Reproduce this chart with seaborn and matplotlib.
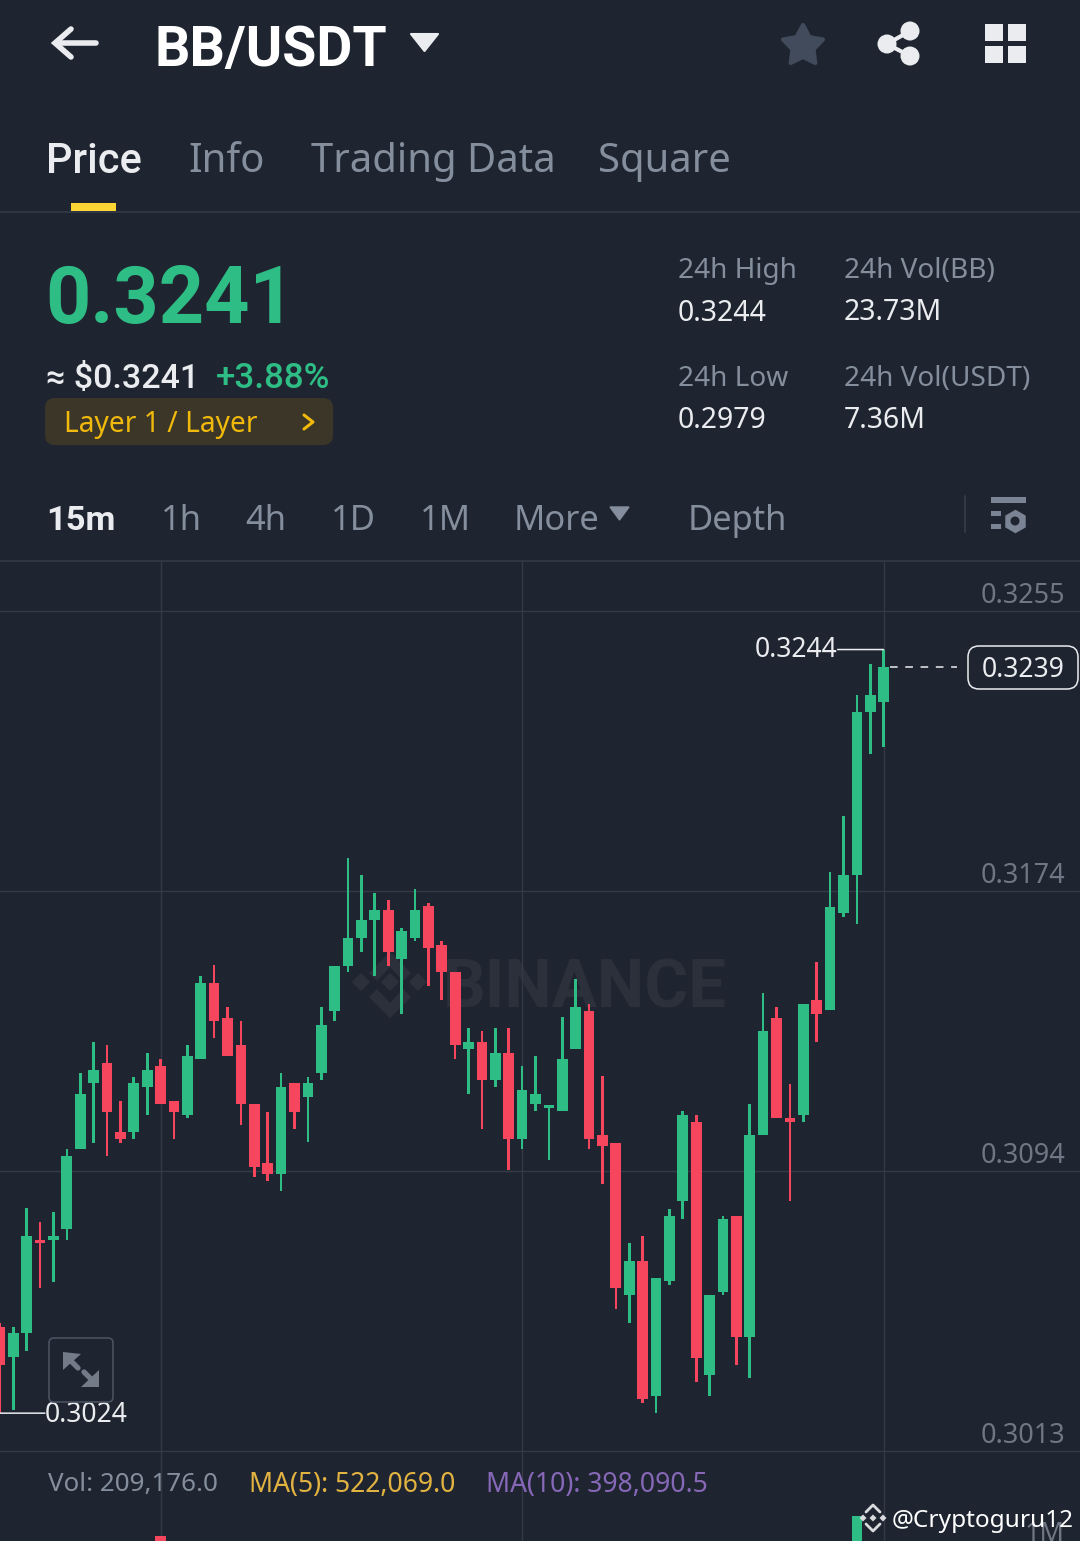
import numpy as np
import pandas as pd
import matplotlib
matplotlib.use("Agg")
import matplotlib.pyplot as plt
from matplotlib.patches import FancyBboxPatch, Polygon, Circle, Rectangle
import seaborn as sns

# ---------- data ----------
opens = [.30488,.30400,.30469,.30738,.30738,.30769,.30999,.31189,.31249,.31049,.31049,.31179,.31238,.31138,.31099,.31259,.31478,.31378,.31299,.31129,.30959,.30929,.31189,
         .31149,.31219,.31398,.31528,.31609,.31659,.31689,.31548,.31609,.31699,.31589,.31509,.31288,.31308,.31199,.31278,.31029,.31129,.31119,.31109,.31288,
         .31399,.31039,.31018,.30579,.30678,.30289,.30619,.30849,.31079,.30349,.30589,.30808,.30459,.31039,.31378,.31088,.31099,.31428,
         .31400,.31679,.31788,.32259,.32289]
highs = [.30498,.30488,.30829,.30789,.30819,.30999,.31219,.31308,.31299,.31138,.31208,.31278,.31258,.31138,.31299,.31498,.31529,.31408,.31368,.31129,.31108,.31219,.31189,
         .31208,.31408,.31528,.31838,.31788,.31738,.31718,.31638,.31748,.31709,.31598,.31509,.31349,.31339,.31349,.31349,.31239,.31269,.31127,.31379,.31489,
         .31419,.31209,.31018,.30728,.30749,.30628,.30828,.31109,.31099,.30579,.30808,.30808,.31129,.31449,.31408,.31188,.31419,.31539,
         .31798,.31958,.32308,.32398,.32439]
lows  = [.30239,.30248,.30419,.30599,.30618,.30739,.30999,.31018,.30979,.31018,.31029,.31099,.31129,.31029,.31088,.31259,.31319,.31269,.31069,.30918,.30908,.30879,.31058,
         .31019,.31199,.31369,.31509,.31568,.31499,.31528,.31389,.31599,.31469,.31429,.31259,.31158,.31059,.31179,.30939,.30999,.31109,.30969,.31109,.31288,
         .30999,.30899,.30539,.30499,.30269,.30239,.30609,.30799,.30330,.30289,.30579,.30379,.30339,.31039,.31088,.30849,.31079,.31309,
         .31400,.31669,.31649,.32139,.32159]
closes= [.30379,.30469,.30749,.30728,.30749,.30979,.31158,.31228,.31108,.31029,.31189,.31228,.31129,.31108,.31268,.31478,.31369,.31269,.31129,.30948,.30929,.31179,.31108,
         .31189,.31358,.31528,.31609,.31659,.31689,.31568,.31629,.31689,.31579,.31509,.31299,.31308,.31199,.31278,.31029,.31169,.31158,.31127,.31259,.31408,
         .31030,.31009,.30599,.30678,.30279,.30628,.30808,.31099,.30399,.30579,.30799,.30459,.31039,.31339,.31088,.31079,.31419,.31389,
         .31698,.31788,.32259,.32308,.32389]
axis_prices = [.3255, .31743, .30937, .3013]
axis_labels = ["0.3255", "0.3174", "0.3094", "0.3013"]
grid_candles = [12, 39, 66]
vol_candles_red = [12]
vol_values_red = [1.05]      # millions (tops only are visible)
vol_candles_green = [64]
vol_values_green = [1.25]
last_price, last_label = .3239, "0.3239"
high_candle, high_label = 66, "0.3244"
low_candle, low_label = 0, "0.3024"

tabs = ["Price", "Info", "Trading Data", "Square"]
intervals = ["15m", "1h", "4h", "1D", "1M", "More", "Depth"]

# ---------- colours ----------
BG = "#1f2530"; GRID = "#333946"; GREEN = "#2ebd85"; RED = "#f6465d"
WHITE = "#eaecef"; GRAY = "#848e9c"; AXG = "#6f7785"; YEL = "#fcd535"

sns.set_theme(style="dark", rc={"figure.facecolor": BG, "axes.facecolor": "none"})
plt.rcParams["font.family"] = ["Noto Sans", "DejaVu Sans"]
ROB = ["Roboto", "DejaVu Sans"]

W, H = 1080, 1541
fig = plt.figure(figsize=(W / 100, H / 100), dpi=100, facecolor=BG)

def full_ax(z):
    a = fig.add_axes([0, 0, 1, 1], zorder=z)
    a.set_xlim(0, W); a.set_ylim(H, 0); a.axis("off")
    return a

ui = full_ax(0)
top = full_ax(5)

def px_axes(y0, y1):
    return fig.add_axes([0, 1 - y1 / H, 1, (y1 - y0) / H], zorder=2)

def T(a, x, y, s, px, color=WHITE, weight="normal", ha="left", family=None, **kw):
    return a.text(x, y, s, fontsize=px * .72, color=color, fontweight=weight, ha=ha,
                  va="center_baseline", family=family or ["Noto Sans", "DejaVu Sans"], **kw)

# ---------- candle chart ----------
ax = px_axes(562, 1451)
df = pd.DataFrame(dict(i=np.arange(len(opens)), o=opens, h=highs, l=lows, c=closes))
df["top"] = df[["o", "c"]].max(axis=1)
df["bot"] = df[["o", "c"]].min(axis=1)
for is_up, col in [(True, GREEN), (False, RED)]:
    sub = df[(df.c >= df.o) == is_up]
    sns.barplot(x=sub.i.values, y=(sub.h - sub.l).values, bottom=sub.l.values, color=col, saturation=1,
                width=.2, native_scale=True, errorbar=None, linewidth=0, ax=ax, zorder=3)
    sns.barplot(x=sub.i.values, y=(sub.top - sub.bot).values, bottom=sub.bot.values, color=col, saturation=1,
                width=.8, native_scale=True, errorbar=None, linewidth=0, ax=ax, zorder=4)

XL = (0.0075, 0.0075 + W / 13.39)
p_per_px = (axis_prices[0] - axis_prices[3]) / 840
ax.set_xlim(*XL)
ax.set_ylim(axis_prices[3], axis_prices[0] + 49 * p_per_px)
ax.set_xticks(grid_candles); ax.set_yticks(axis_prices)
ax.tick_params(length=0, labelbottom=False, labelleft=False)
ax.set_xlabel(""); ax.set_ylabel("")
ax.grid(True, color=GRID, lw=1.4 * .72); ax.set_axisbelow(True)
for s in ax.spines.values():
    s.set_visible(False)
for p, lab in zip(axis_prices, axis_labels):
    ax.annotate(lab, xy=(1, p), xycoords=("axes fraction", "data"), xytext=(-15 * .72, 15 * .72),
                textcoords="offset points", ha="right", va="center", color=AXG, fontsize=27 * .72)

line_kw = dict(arrowstyle="-", color=WHITE, lw=1.1, shrinkA=0, shrinkB=0)
ax.annotate("", xy=(high_candle, highs[high_candle]), xytext=(-46 * .72, 0), textcoords="offset points",
            arrowprops=line_kw, zorder=6)
ax.annotate(high_label, xy=(high_candle, highs[high_candle]), xytext=(-46 * .72, 0), textcoords="offset points",
            ha="right", va="center", color=WHITE, fontsize=26.5 * .72, zorder=6)
ax.annotate("", xy=(low_candle, lows[low_candle]), xytext=(45 * .72, 0), textcoords="offset points",
            arrowprops=line_kw, zorder=6, annotation_clip=False)
ax.annotate(low_label, xy=(low_candle, lows[low_candle]), xytext=(45 * .72, -2 * .72), textcoords="offset points",
            ha="left", va="center", color=WHITE, fontsize=26.5 * .72, zorder=6, annotation_clip=False)
x_last = (890 / 13.39 + XL[0], 957 / 13.39 + XL[0])
ax.plot(x_last, [last_price, last_price], color=WHITE, lw=1.1, dashes=(5, 5))
ax.annotate(last_label, xy=(1, last_price), xycoords=("axes fraction", "data"), xytext=(-15 * .72, -3 * .72),
            textcoords="offset points", ha="right", va="center", color=WHITE, fontsize=26.5 * .72)

# ---------- volume panel ----------
vx = px_axes(1451, 1541)
for idx, vals, col in [(vol_candles_green, vol_values_green, GREEN), (vol_candles_red, vol_values_red, RED)]:
    sns.barplot(x=idx, y=vals, color=col, saturation=1, width=.8, native_scale=True,
                errorbar=None, linewidth=0, ax=vx, zorder=3)
vx.set_xlim(*XL); vx.set_ylim(1.0, 1.9)
vx.set_xticks(grid_candles); vx.set_yticks([1.9])
vx.tick_params(length=0, labelbottom=False, labelleft=False)
vx.set_xlabel(""); vx.set_ylabel("")
vx.grid(True, color=GRID, lw=1.4 * .72); vx.set_axisbelow(True)
for s in vx.spines.values():
    s.set_visible(False)

# ---------- header ----------
ui.plot([56, 96], [43, 43], color=WHITE, lw=4, solid_capstyle="round")
ui.plot([71, 55, 71], [29, 43, 57], color=WHITE, lw=4, solid_capstyle="round", solid_joinstyle="miter")
T(ui, 154, 45, "BB/USDT", 55.5, "#ffffff", "bold", family=ROB)
ui.add_patch(Polygon([(411, 34), (438, 34), (424.5, 51)], color=WHITE, joinstyle="round", lw=1.5))
star = []
for k in range(10):
    r = 21 if k % 2 == 0 else 11
    ang = -np.pi / 2 + k * np.pi / 5
    star.append((803 + r * np.cos(ang), 46 + r * np.sin(ang)))
ui.add_patch(Polygon(star, fc="#414b5c", ec="#414b5c", lw=3, joinstyle="round"))
ui.plot([910, 887, 910], [31, 44, 56], color=WHITE, lw=3)
for c in [(887, 44), (910, 31), (910, 56)]:
    ui.add_patch(Circle(c, 9.5, color=WHITE, lw=0))
for xx, yy in [(985, 24), (1008, 24), (985, 46), (1008, 46)]:
    ui.add_patch(Rectangle((xx, yy), 18, 17, color=WHITE, lw=0))

T(ui, 46, 157, tabs[0], 41.5, WHITE, "medium", family=ROB)
for s, x in zip(tabs[1:], [188, 311, 598]):
    T(ui, x, 157, s, 40, GRAY)
ui.add_patch(Rectangle((71, 203), 45, 8, color=YEL, lw=0))
ui.plot([0, W], [212, 212], color=GRID, lw=1.2)

T(ui, 45, 293, "0.3241", 79, GREEN, "bold", family=ROB)
T(ui, 46, 375, "≈ $0.3241", 34, WHITE, "medium", family=ROB)
T(ui, 216, 375, "+3.88%", 35, GREEN, "medium", family=ROB)
ui.add_patch(FancyBboxPatch((53, 406), 272, 31, boxstyle="round,pad=8,rounding_size=10", fc="#3b3628", ec="none"))
T(ui, 64, 421, "Layer 1 / Layer", 28.2, "#f0b90b")
ui.plot([304, 313, 304], [415, 422, 429], color="#f0b90b", lw=2.2)

for x, y, s in [(678, 267, "24h High"), (844, 267, "24h Vol(BB)"), (678, 375, "24h Low"), (844, 375, "24h Vol(USDT)")]:
    T(ui, x, y, s, 28, GRAY)
for x, y, s in [(678, 310, "0.3244"), (844, 309, "23.73M"), (678, 417, "0.2979"), (844, 417, "7.36M")]:
    T(ui, x, y, s, 28.4, WHITE)

for s, x in zip(intervals, [47, 161, 245, 331, 420, 514, 688]):
    if s == "15m":
        T(ui, x - 1, 517, s, 34.5, WHITE, "bold", family=ROB)
    else:
        T(ui, x, 517, s, 34.5, GRAY)
ui.add_patch(Polygon([(610, 507), (629, 507), (619.5, 520)], color=GRAY, lw=1))
ui.plot([964.5, 964.5], [496, 532], color=GRID, lw=1.4)
SET = "#7b8494"
ui.add_patch(Rectangle((991, 497), 35, 6, color=SET, lw=0))
ui.add_patch(Rectangle((991, 511), 10, 5, color=SET, lw=0))
ui.add_patch(Rectangle((991, 524), 10, 5, color=SET, lw=0))
ui.plot([1015], [521], marker="h", ms=17, color=SET, mew=0)
ui.add_patch(Circle((1015, 521), 4.5, color=BG, lw=0, zorder=4))
ui.plot([0, W], [560.5, 560.5], color=GRID, lw=1.2)

# ---------- watermark ----------
WM = "#2b303b"
T(ui, 443, 982, "BINANCE", 67, WM, "bold", family=ROB)
for cx in (361, 390, 418):
    ui.add_patch(Polygon([(cx - 9, 982), (cx, 973), (cx + 9, 982), (cx, 991)], color=WM, lw=0))
up = [(390, 952), (411, 973), (403, 981), (390, 967), (377, 981), (369, 973)]
ui.add_patch(Polygon(up, color=WM, lw=0))
ui.add_patch(Polygon([(x, 1970 - y) for x, y in up], color=WM, lw=0))

# ---------- overlay ----------
top.add_patch(FancyBboxPatch((968, 646), 110, 43, boxstyle="round,pad=0,rounding_size=11",
                             fc="none", ec=WHITE, lw=1.1))
top.add_patch(FancyBboxPatch((49, 1338), 64, 64, boxstyle="round,pad=0,rounding_size=5",
                             fc="none", ec="#4a5160", lw=1.2))
EXP = "#737b89"
top.plot([70, 78], [1360, 1368], color=EXP, lw=3.8)
top.plot([84, 92], [1372, 1380], color=EXP, lw=3.8)
top.add_patch(Polygon([(63, 1352), (63, 1370), (81, 1354)], color=EXP, lw=0))
top.add_patch(Polygon([(99, 1387), (99, 1370), (81, 1387)], color=EXP, lw=0))

T(top, 48, 1482, "Vol: 209,176.0", 26, GRAY)
T(top, 249, 1482, "MA(5): 522,069.0", 26.5, "#e3b341")
T(top, 486, 1482, "MA(10): 398,090.5", 26.5, "#8768b8")
T(top, 1065, 1531, "1M", 27, AXG, ha="right")
T(top, 892, 1518, "@Cryptoguru12", 24.4, "#ffffff")
LG = "#d8dade"
for cx, cy in [(863, 1518), (873, 1518), (883, 1518)]:
    top.add_patch(Polygon([(cx - 3.5, cy), (cx, cy - 3.5), (cx + 3.5, cy), (cx, cy + 3.5)], color=LG, lw=0))
top.plot([866, 873, 880], [1512, 1505, 1512], color=LG, lw=2)
top.plot([866, 873, 880], [1524, 1531, 1524], color=LG, lw=2)

fig.savefig("out.png", dpi=100, facecolor=BG)
